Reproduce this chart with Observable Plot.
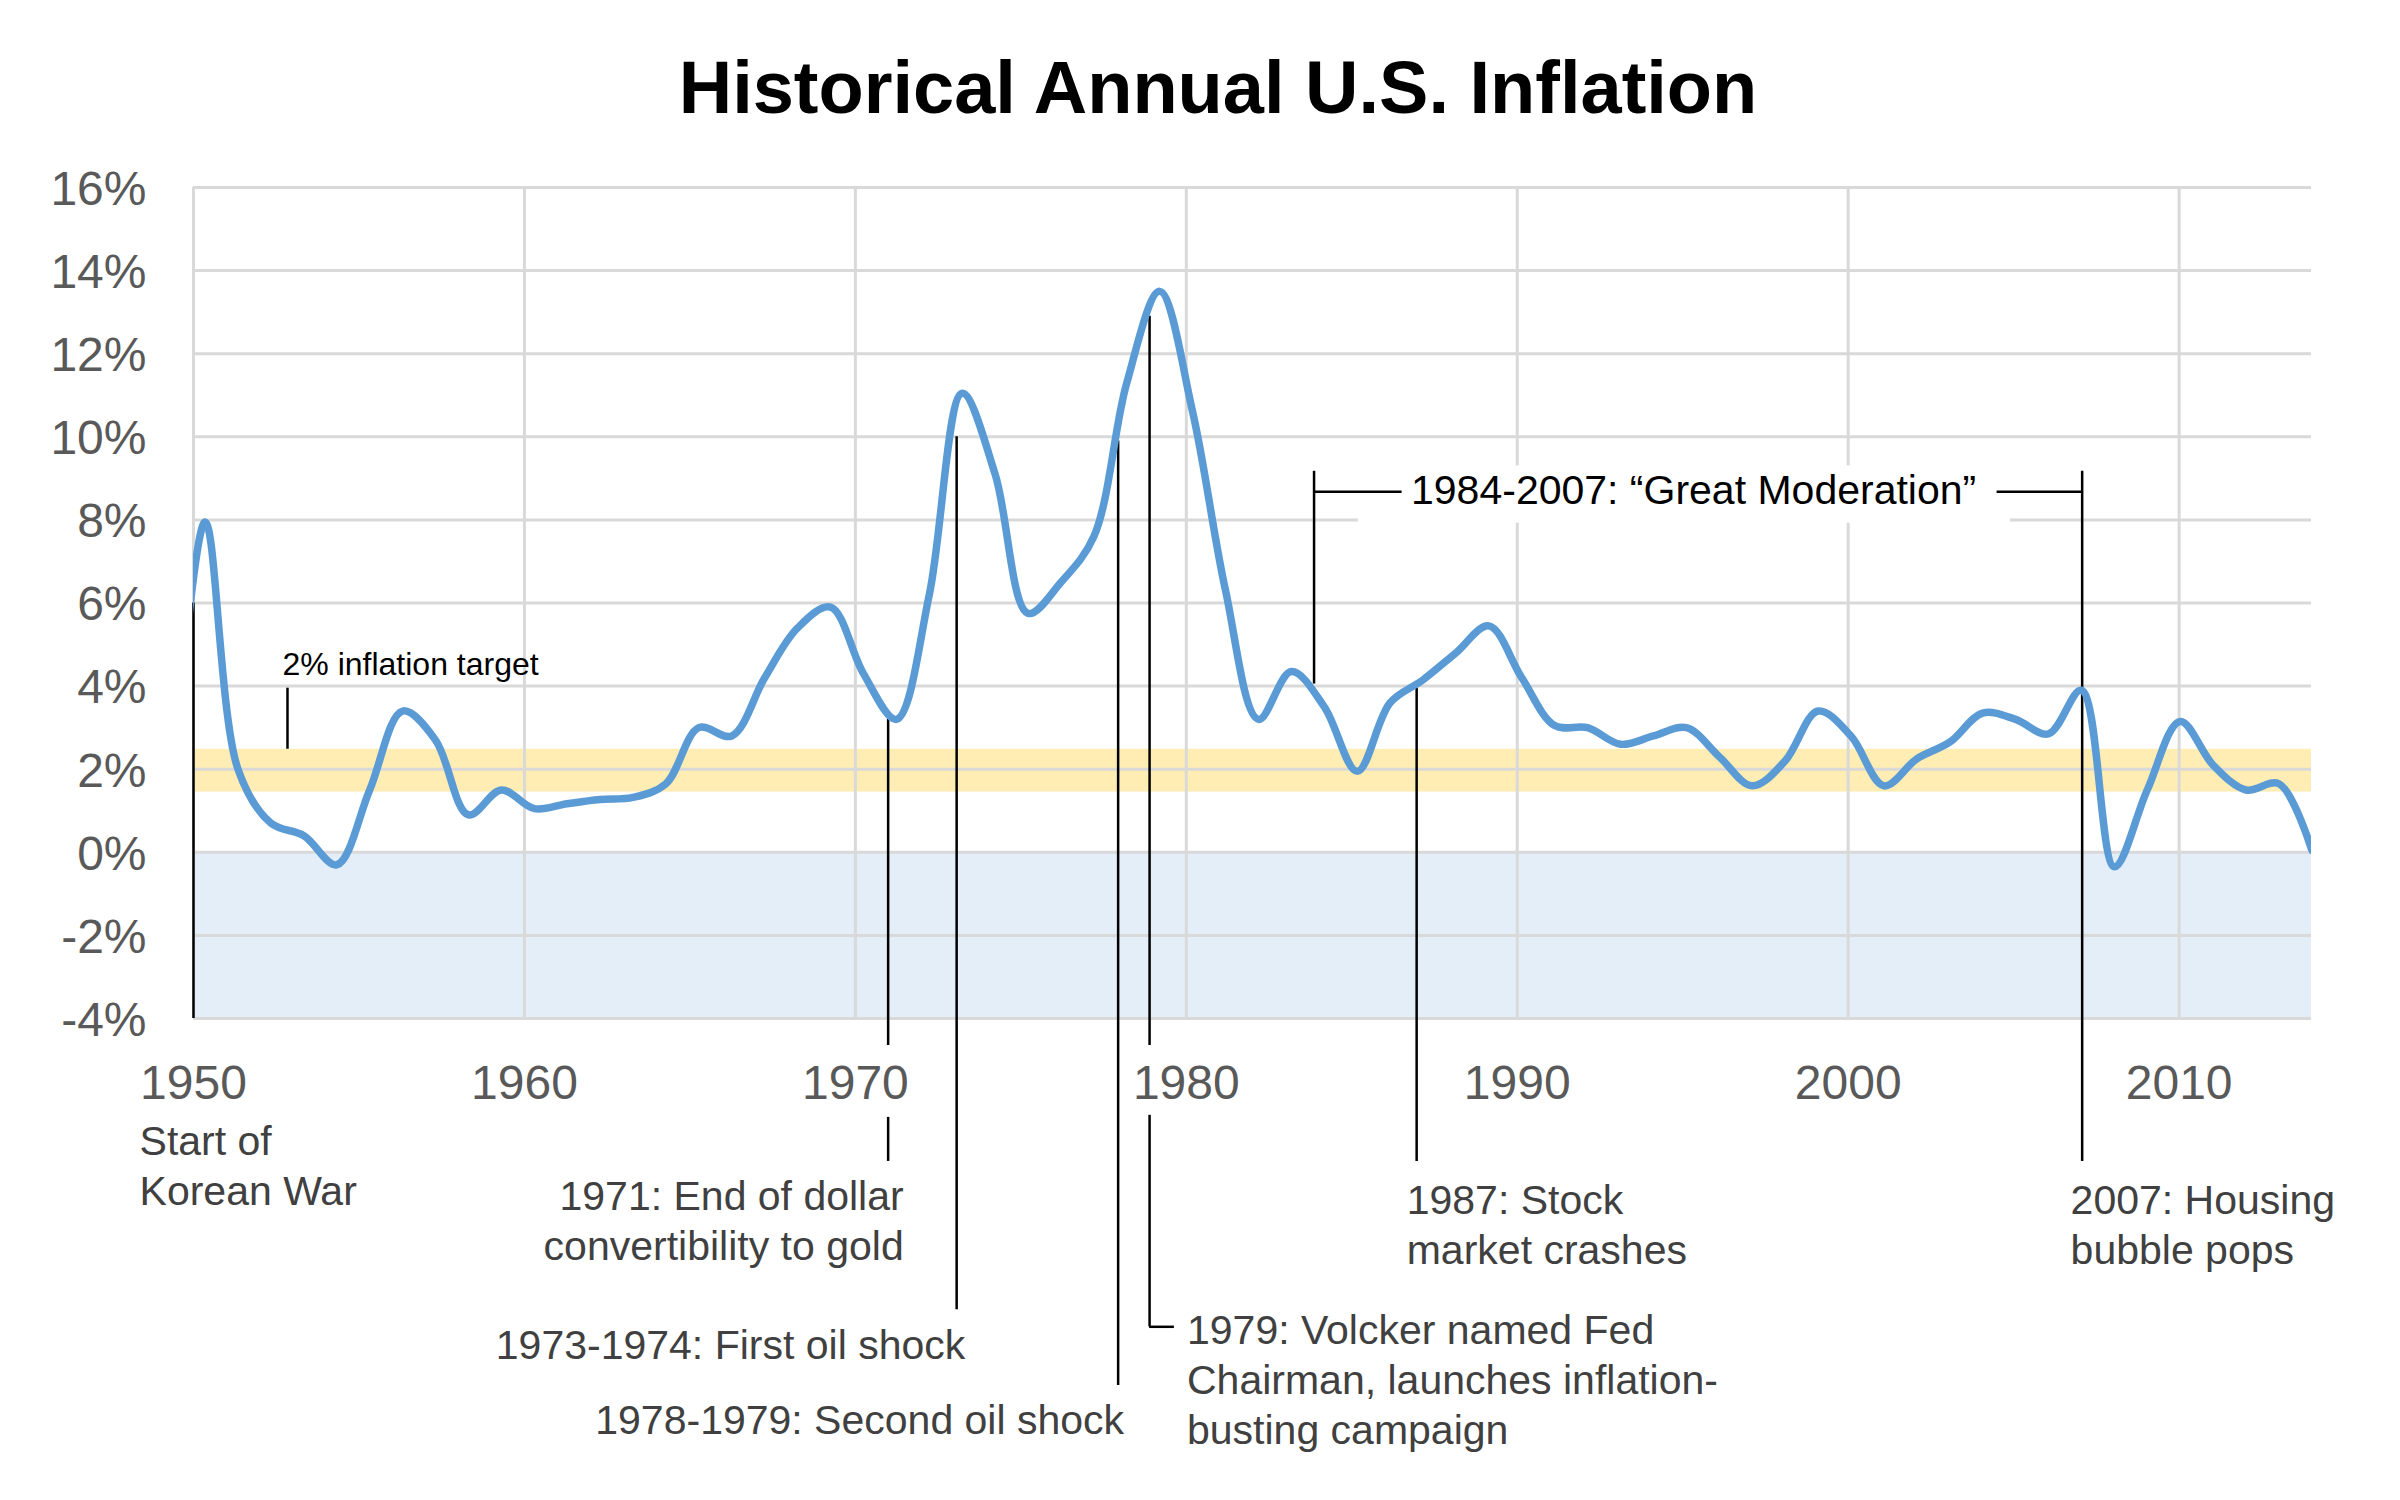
<!DOCTYPE html>
<html>
<head>
<meta charset="utf-8">
<script src="https://cdn.jsdelivr.net/npm/d3@7"></script>
<script src="https://cdn.jsdelivr.net/npm/@observablehq/plot@0.6"></script>
<style>
  html, body { margin: 0; padding: 0; background: #fff; }
  #title {
    box-sizing: border-box; width: 2436px; height: 150px; padding-top: 51px;
    text-align: center; font: bold 74px/74px "Liberation Sans", Arial, sans-serif; color: #000;
  }
  svg { display: block; overflow: visible; }
</style>
</head>
<body>
<div id="title">Historical Annual U.S. Inflation</div>
<div id="chart"></div>
<script>
// ---- data ----
const years = [1950,1951,1952,1953,1954,1955,1956,1957,1958,1959,
  1960,1961,1962,1963,1964,1965,1966,1967,1968,1969,
  1970,1971,1972,1973,1974,1975,1976,1977,1978,1979,
  1980,1981,1982,1983,1984,1985,1986,1987,1988,1989,
  1990,1991,1992,1993,1994,1995,1996,1997,1998,1999,
  2000,2001,2002,2003,2004,2005,2006,2007,2008,2009,
  2010,2011,2012,2013,2014,2015];
const inflation = [1.3,7.95,2.0,0.7,0.4,-0.3,1.5,3.4,2.7,0.9,
  1.5,1.05,1.17,1.27,1.32,1.65,3.0,2.8,4.2,5.4,
  5.9,4.3,3.2,6.2,11.05,9.1,5.75,6.5,7.6,11.3,
  13.5,10.6,6.3,3.2,4.35,3.5,1.95,3.6,4.15,4.8,
  5.45,4.2,3.05,3.0,2.6,2.8,3.0,2.3,1.6,2.2,
  3.4,2.8,1.6,2.25,2.65,3.35,3.2,2.85,3.9,-0.35,
  1.5,3.15,2.1,1.5,1.65,0.05];
// the source chart plots each annual value slightly left of its year
const firstPos = 1950.35, lastPos = 2014.01;   // axis positions of 1951 and 2015

const yTicks = [-4,-2,0,2,4,6,8,10,12,14,16];
const xTicks = [1950,1960,1970,1980,1990,2000,2010];
const targetBand = [{lo: 1.45, hi: 2.48}];
const deflationBand = [{lo: -4, hi: 0}];

// annotation leader lines (x in years, y in % units)
const leaderV = [
  {x: 1950.0,  y1: 6.0,  y2: -4},
  {x: 1970.99, y1: 3.2,  y2: -4.65}, {x: 1970.99, y1: -6.38, y2: -7.44},
  {x: 1973.06, y1: 10.0, y2: -11.01},
  {x: 1977.94, y1: 9.9,  y2: -12.83},
  {x: 1978.89, y1: 12.9, y2: -4.65}, {x: 1978.89, y1: -6.33, y2: -11.42},
  {x: 1983.86, y1: 4.05, y2: 9.17},
  {x: 1986.96, y1: 3.95, y2: -7.44},
  {x: 2007.07, y1: 9.17, y2: -7.44},
  {x: 1952.84, y1: 2.48, y2: 3.95}
];
const leaderH = [
  {y: -11.42, x1: 1978.89, x2: 1979.64},
  {y: 8.68, x1: 1983.86, x2: 1986.52},
  {y: 8.68, x1: 2004.5, x2: 2007.07}
];
const maskBox = [{x1: 1985.2, x2: 2004.9, y1: 7.92, y2: 9.3}];
const notesLeft = [   // left-aligned notes
  {x: 1948.37, y: -6.44, text: "Start of\nKorean War"},
  {x: 1980.02, y: -10.98, text: "1979: Volcker named Fed\nChairman, launches inflation-\nbusting campaign"},
  {x: 1986.66, y: -7.86, text: "1987: Stock\nmarket crashes"},
  {x: 2006.72, y: -7.86, text: "2007: Housing\nbubble pops"}
];
const notesRight = [  // right-aligned notes
  {x: 1971.46, y: -7.76, text: "1971: End of dollar\nconvertibility to gold"},
  {x: 1973.32, y: -11.33, text: "1973-1974: First oil shock"},
  {x: 1978.12, y: -13.15, text: "1978-1979: Second oil shock"}
];
const moderationNote = [{x: 1986.79, y: 8.7, text: "1984-2007: \u201CGreat Moderation\u201D"}];
const targetNote = [{x: 1952.69, y: 4.82, text: "2% inflation target"}];

// ---- build ----
const pos = d3.scaleLinear([1951, 2015], [firstPos, lastPos]);
const series = years.map((year, i) => ({year, pos: pos(year), value: inflation[i]}));

const font = '"Liberation Sans", Arial, sans-serif';
const grid = "#d9d9d9";
const noteStyle = {x: "x", y: "y", text: "text", lineAnchor: "top", fontSize: 41, lineHeight: 1.22, fill: "#404040"};

const chart = Plot.plot({
  width: 2400,
  height: 1350,
  marginTop: 37,
  marginBottom: 482,
  marginLeft: 193,
  marginRight: 89,
  style: {fontFamily: font, background: "white", overflow: "visible"},
  x: {domain: [1950, 2014], axis: null},
  y: {domain: [-4, 16], axis: null},
  marks: [
    Plot.rect(deflationBand, {y1: "lo", y2: "hi", fill: "#e4eef8"}),
    Plot.rect(targetBand, {y1: "lo", y2: "hi", fill: "#ffedb3"}),
    Plot.ruleY(yTicks, {stroke: grid, strokeWidth: 3}),
    Plot.ruleX(xTicks, {stroke: grid, strokeWidth: 3}),
    Plot.axisY({ticks: yTicks, tickSize: 0, tickPadding: 47, fontSize: 48, color: "#595959",
      tickFormat: d => `${d}%`, dy: 2, label: null}),
    Plot.axisX({ticks: xTicks, tickSize: 0, tickPadding: 46, fontSize: 48, color: "#595959",
      tickFormat: d => String(d), label: null}),
    Plot.rect(maskBox, {x1: "x1", x2: "x2", y1: "y1", y2: "y2", fill: "white"}),
    Plot.ruleX(leaderV, {x: "x", y1: "y1", y2: "y2", stroke: "#000", strokeWidth: 2.5}),
    Plot.ruleY(leaderH, {y: "y", x1: "x1", x2: "x2", stroke: "#000", strokeWidth: 2.5}),
    Plot.line(series, {x: "pos", y: "value", stroke: "#5b9bd5", strokeWidth: 7.5,
      curve: "catmull-rom", clip: true, strokeLinejoin: "round"}),
    Plot.text(notesLeft, {...noteStyle, textAnchor: "start"}),
    Plot.text(notesRight, {...noteStyle, textAnchor: "end"}),
    Plot.text(moderationNote, {x: "x", y: "y", text: "text", textAnchor: "start",
      lineAnchor: "middle", fontSize: 41, fill: "#000"}),
    Plot.text(targetNote, {x: "x", y: "y", text: "text", textAnchor: "start",
      lineAnchor: "top", fontSize: 32, fill: "#000"})
  ]
});
document.getElementById("chart").appendChild(chart);
</script>
</body>
</html>
